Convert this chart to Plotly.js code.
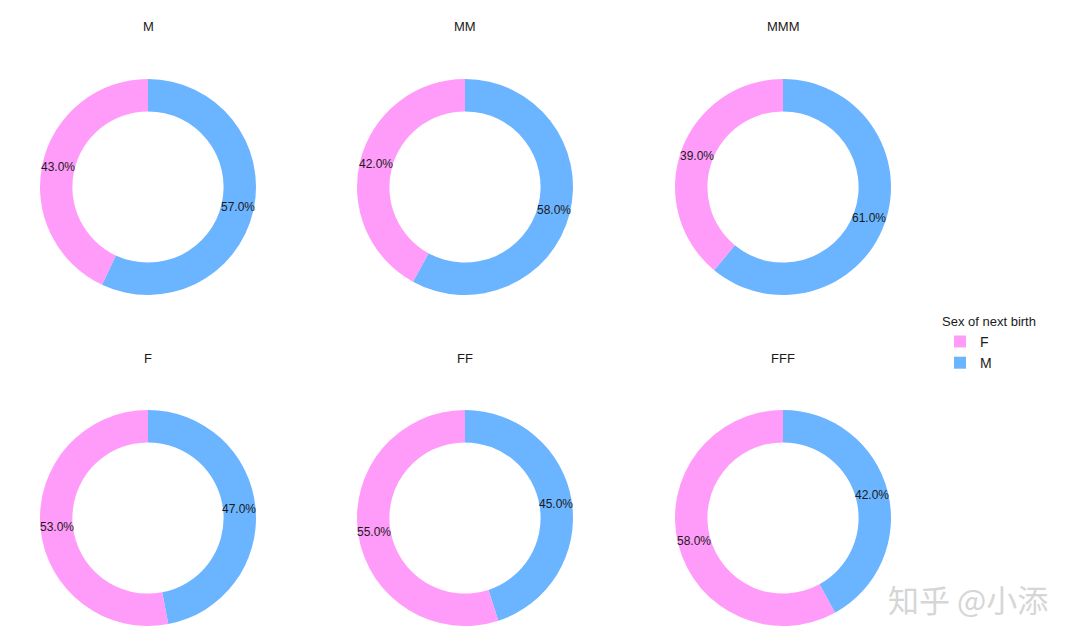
<!DOCTYPE html>
<html>
<head>
<meta charset="utf-8">
<script src="https://cdn.plot.ly/plotly-3.0.1.min.js"></script>
<style>
  html, body { margin: 0; padding: 0; background: #fff; }
  #chart { width: 1080px; height: 643px; }
</style>
</head>
<body>
<div id="chart"></div>
<script>
// previous births pattern, one panel each
const panels = ["M", "MM", "MMM", "F", "FF", "FFF"];
const sexes = ["M", "F"];
const pctM = [57, 58, 61, 47, 45, 42];
const pctF = [43, 42, 39, 53, 55, 58];

const colors = { F: "#FF9CF9", M: "#6BB4FF" };

// panel grid, in px of the 1080x643 page
const colCenters = [148, 465, 783];
const rowCenters = [187, 518];
const radius = 108;
const hole = 0.7;
const W = 1080, H = 643;

const traces = [];
const annotations = [];

const paperX = (px) => px / W;
const paperY = (py) => 1 - py / H;

panels.forEach((name, i) => {
  const cx = colCenters[i % 3];
  const cy = rowCenters[Math.floor(i / 3)];
  const vals = [pctM[i], pctF[i]];
  traces.push({
    type: "pie",
    labels: sexes,
    values: vals,
    marker: { colors: sexes.map((s) => colors[s]), line: { width: 0 } },
    hole,
    sort: false,
    direction: "clockwise",
    rotation: 0,
    domain: {
      x: [paperX(cx - radius), paperX(cx + radius)],
      y: [paperY(cy + radius), paperY(cy - radius)],
    },
    textinfo: "none",
    hoverinfo: "label+value",
    showlegend: i === 0,
  });

  // percentage labels at the middle of each ring segment (like geom_text in polar coords)
  const total = vals.reduce((a, b) => a + b, 0);
  const rMid = (radius * (1 + hole)) / 2;
  let cum = 0;
  vals.forEach((v) => {
    const ang = (2 * Math.PI * (cum + v / 2)) / total;
    cum += v;
    annotations.push({
      text: `${v.toFixed(1)}%`,
      x: paperX(cx + rMid * Math.sin(ang)),
      y: paperY(cy - rMid * Math.cos(ang)),
      xref: "paper",
      yref: "paper",
      xanchor: "center",
      yanchor: "middle",
      showarrow: false,
      font: { size: 12, color: "#1a1a1a" },
    });
  });

  annotations.push({
    text: name,
    x: paperX(cx),
    y: paperY(cy - 160),
    xref: "paper",
    yref: "paper",
    xanchor: "center",
    yanchor: "middle",
    showarrow: false,
    font: { size: 13, color: "#1a1a1a" },
  });
});

annotations.push({
  text: "知乎 @小添",
  x: paperX(968),
  y: paperY(598),
  xref: "paper",
  yref: "paper",
  xanchor: "center",
  yanchor: "middle",
  showarrow: false,
  font: { family: "Noto Sans CJK SC", size: 31, color: "#d6d6d6" },
});

Plotly.newPlot(
  "chart",
  traces,
  {
    width: W,
    height: H,
    margin: { l: 0, r: 0, t: 0, b: 0 },
    paper_bgcolor: "#ffffff",
    font: { family: "Liberation Sans, Arial, sans-serif", color: "#1a1a1a" },
    legend: {
      title: { text: "Sex of next birth", font: { size: 13 } },
      x: paperX(940),
      y: paperY(309),
      xanchor: "left",
      yanchor: "top",
      font: { size: 14 },
      traceorder: "reversed",
    },
    annotations,
  },
  { displayModeBar: false, staticPlot: true },
);
</script>
</body>
</html>
